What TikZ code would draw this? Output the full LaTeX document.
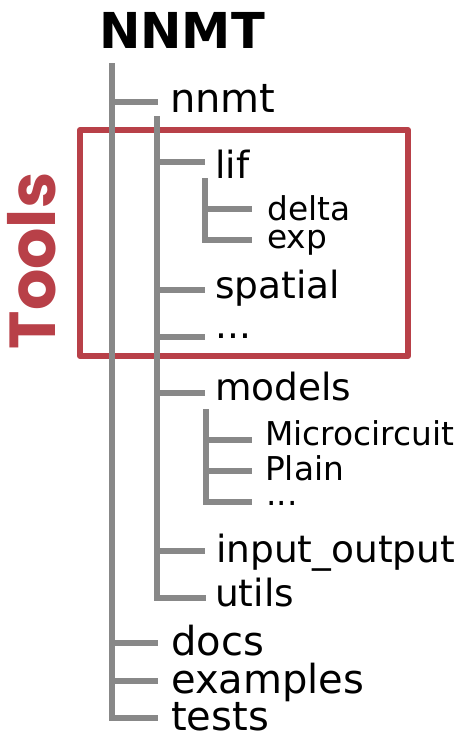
\documentclass[tikz,border=0pt]{standalone}
\usepackage{fontspec}
\setmainfont{DejaVu Sans}
\newfontfamily\toolsfont{Poppins}
\definecolor{treegray}{RGB}{136,136,136}
\definecolor{toolred}{RGB}{184,64,72}
\begin{document}
\begin{tikzpicture}[x=1pt,y=-1pt,
  tree/.style={draw=treegray, line width=6pt},
  lvA/.style={anchor=base west, inner sep=0pt, font=\fontsize{40}{40}\selectfont},
  lvB/.style={anchor=base west, inner sep=0pt, font=\fontsize{37.5}{37.5}\selectfont},
  lvC/.style={anchor=base west, inner sep=0pt, font=\fontsize{32.8}{32.8}\selectfont},
  redbox/.style={draw=toolred, line width=6pt, line join=round}]
\useasboundingbox (0,0) rectangle (470,745);

% Tools box
\draw[redbox] (80,130) rectangle (408,356);
\node[rotate=90, anchor=base, inner sep=0pt, text=toolred,
      font=\toolsfont\bfseries\fontsize{65}{65}\selectfont] (tools) at (55,261) {Tools};

% Labels
\node[anchor=base, inner sep=0pt, font=\fontsize{49.5}{49.5}\selectfont\bfseries] (root) at (182,48) {NNMT};
\node[lvA] (nnmt) at (170,112) {nnmt};
\node[lvB] (lif) at (215,178) {lif};
\node[lvC] (delta) at (267,220) {delta};
\node[lvC] (exp) at (267,248) {exp};
\node[lvB] (spatial) at (215,298) {spatial};
\node[lvB] (dotsB) at (215,338) {...};
\node[lvB] (models) at (215,400) {models};
\node[lvC] (micro) at (265,445) {Microcircuit};
\node[lvC] (plain) at (265,480) {Plain};
\node[lvC] (dotsC) at (266,505) {...};
\node[lvB] (io) at (216,562) {input\_output};
\node[lvB] (utils) at (215,606) {utils};
\node[lvA] (docs) at (171,655) {docs};
\node[lvA] (examples) at (171,693) {examples};
\node[lvA] (tests) at (171,730) {tests};

% Junction coordinates
\coordinate (vA) at (112,63);
\coordinate (b-nnmt) at (158,102);
\coordinate (b-docs) at (158,643);
\coordinate (b-examples) at (158,681);
\coordinate (b-tests) at (158,718);

\coordinate (vB) at (157,116);
\coordinate (b-lif) at (205,162);
\coordinate (b-spatial) at (205,290);
\coordinate (b-dotsB) at (205,337);
\coordinate (b-models) at (205,393);
\coordinate (b-io) at (205,551);
\coordinate (b-utils) at (206,598);

\coordinate (vC1) at (205,178);
\coordinate (b-delta) at (252,209);
\coordinate (b-exp) at (252,240);

\coordinate (vC2) at (206,409);
\coordinate (b-micro) at (252,440);
\coordinate (b-plain) at (252,471);
\coordinate (b-dotsC) at (252,502);

% Tree lines
\draw[tree] (vA) |- (b-tests);
\foreach \c in {nnmt,docs,examples} \draw[tree] (vA |- b-\c) -- (b-\c);

\draw[tree] (vB) |- (b-utils);
\foreach \c in {lif,spatial,dotsB,models,io} \draw[tree] (vB |- b-\c) -- (b-\c);

\draw[tree] (vC1) |- (b-exp);
\draw[tree] (vC1 |- b-delta) -- (b-delta);

\draw[tree] (vC2) |- (b-dotsC);
\foreach \c in {micro,plain} \draw[tree] (vC2 |- b-\c) -- (b-\c);
\end{tikzpicture}
\end{document}
